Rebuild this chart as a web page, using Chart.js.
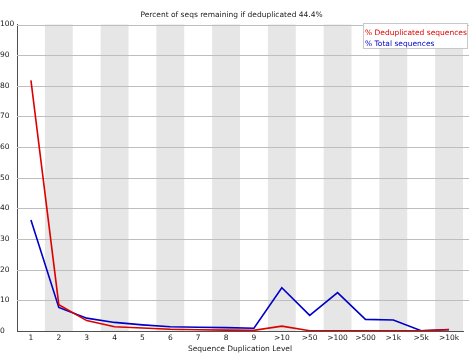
<!DOCTYPE html>
<html>
<head>
<meta charset="utf-8">
<script src="https://cdn.jsdelivr.net/npm/chart.js@4"></script>
<style>
  html, body { margin: 0; padding: 0; background: #fff; }
  #wrap { width: 474px; height: 355px; }
</style>
</head>
<body>
<div id="wrap"><canvas id="dupChart" width="474" height="355"></canvas></div>
<script>
const levels = ['1', '2', '3', '4', '5', '6', '7', '8', '9', '>10', '>50', '>100', '>500', '>1k', '>5k', '>10k'];
const dedupPct = [81.8, 8.6, 3.4, 1.4, 1.0, 0.55, 0.4, 0.3, 0.2, 1.6, 0.1, 0.1, 0.05, 0.05, 0.1, 0.4];
const totalPct = [36.2, 7.7, 4.2, 2.8, 2.0, 1.4, 1.2, 1.1, 0.9, 14.1, 5.1, 12.5, 3.8, 3.6, 0.1, 0.5];
const titleText = 'Percent of seqs remaining if deduplicated 44.4%';
const legendLabels = ['% Deduplicated sequences', '% Total sequences'];

const RED = 'rgb(220,0,0)';
const BLUE = 'rgb(0,0,200)';
const FONT = 'DejaVu Sans';
const FSIZE = 7.5;
const TXT = '#1a1a1a';

// grey bands behind every other category + horizontal grid lines
const bandsPlugin = {
    id: 'bands',
    beforeDatasetsDraw(chart) {
        const { ctx, chartArea, scales } = chart;
        const x = scales.x, y = scales.y;
        const half = (x.getPixelForValue(1) - x.getPixelForValue(0)) / 2;
        ctx.save();
        ctx.fillStyle = 'rgb(230,230,230)';
        levels.forEach((lv, i) => {
            if (i % 2 === 1) {
                const cx = x.getPixelForValue(i);
                ctx.fillRect(cx - half, chartArea.top, half * 2, chartArea.bottom - chartArea.top);
            }
        });
        ctx.strokeStyle = 'rgb(190,190,190)';
        ctx.lineWidth = 1;
        y.ticks.forEach(t => {
            if (t.value === 0) return;
            const py = Math.round(y.getPixelForValue(t.value)) + 0.5;
            ctx.beginPath();
            ctx.moveTo(chartArea.left, py);
            ctx.lineTo(chartArea.right + 6, py);
            ctx.stroke();
        });
        ctx.restore();
    },
    afterDraw(chart) {
        const { ctx } = chart;
        ctx.save();
        ctx.fillStyle = '#fff';
        ctx.fillRect(363, 23, 104, 25);
        ctx.strokeStyle = 'rgb(200,200,200)';
        ctx.strokeRect(363.5, 23.5, 104, 25);
        ctx.font = FSIZE + 'px "' + FONT + '"';
        ctx.textBaseline = 'middle';
        ctx.fillStyle = RED;
        ctx.fillText(legendLabels[0], 365, 33);
        ctx.fillStyle = BLUE;
        ctx.fillText(legendLabels[1], 365, 44);
        ctx.restore();
    }
};

new Chart(document.getElementById('dupChart').getContext('2d'), {
    type: 'line',
    data: {
        labels: levels,
        datasets: [
            { label: legendLabels[0], data: dedupPct, borderColor: RED, borderWidth: 1.6, pointRadius: 0, tension: 0, fill: false },
            { label: legendLabels[1], data: totalPct, borderColor: BLUE, borderWidth: 1.6, pointRadius: 0, tension: 0, fill: false }
        ]
    },
    options: {
        responsive: false,
        animation: false,
        layout: { padding: { top: 0, right: 11, bottom: 0, left: 0 } },
        plugins: {
            legend: { display: false },
            tooltip: { enabled: false },
            title: {
                display: true,
                text: titleText,
                color: TXT,
                font: { family: FONT, size: FSIZE, weight: 'normal' },
                padding: { top: 11, bottom: 4.5 }
            }
        },
        scales: {
            x: {
                offset: true,
                grid: { display: false, drawTicks: false },
                border: { color: 'rgb(80,80,80)', width: 1 },
                ticks: { color: TXT, font: { family: FONT, size: FSIZE }, padding: 3, maxRotation: 0, autoSkip: false },
                title: { display: true, text: 'Sequence Duplication Level', color: TXT, font: { family: FONT, size: FSIZE }, padding: { top: 2, bottom: 1 } },
                afterFit(s) { s.height = 24; }
            },
            y: {
                min: 0,
                max: 100,
                grid: { display: false, drawTicks: false },
                border: { color: 'rgb(80,80,80)', width: 1 },
                ticks: { stepSize: 10, color: TXT, font: { family: FONT, size: FSIZE }, crossAlign: 'far' },
                afterFit(s) { s.width = 17; }
            }
        }
    },
    plugins: [bandsPlugin]
});
</script>
</body>
</html>
